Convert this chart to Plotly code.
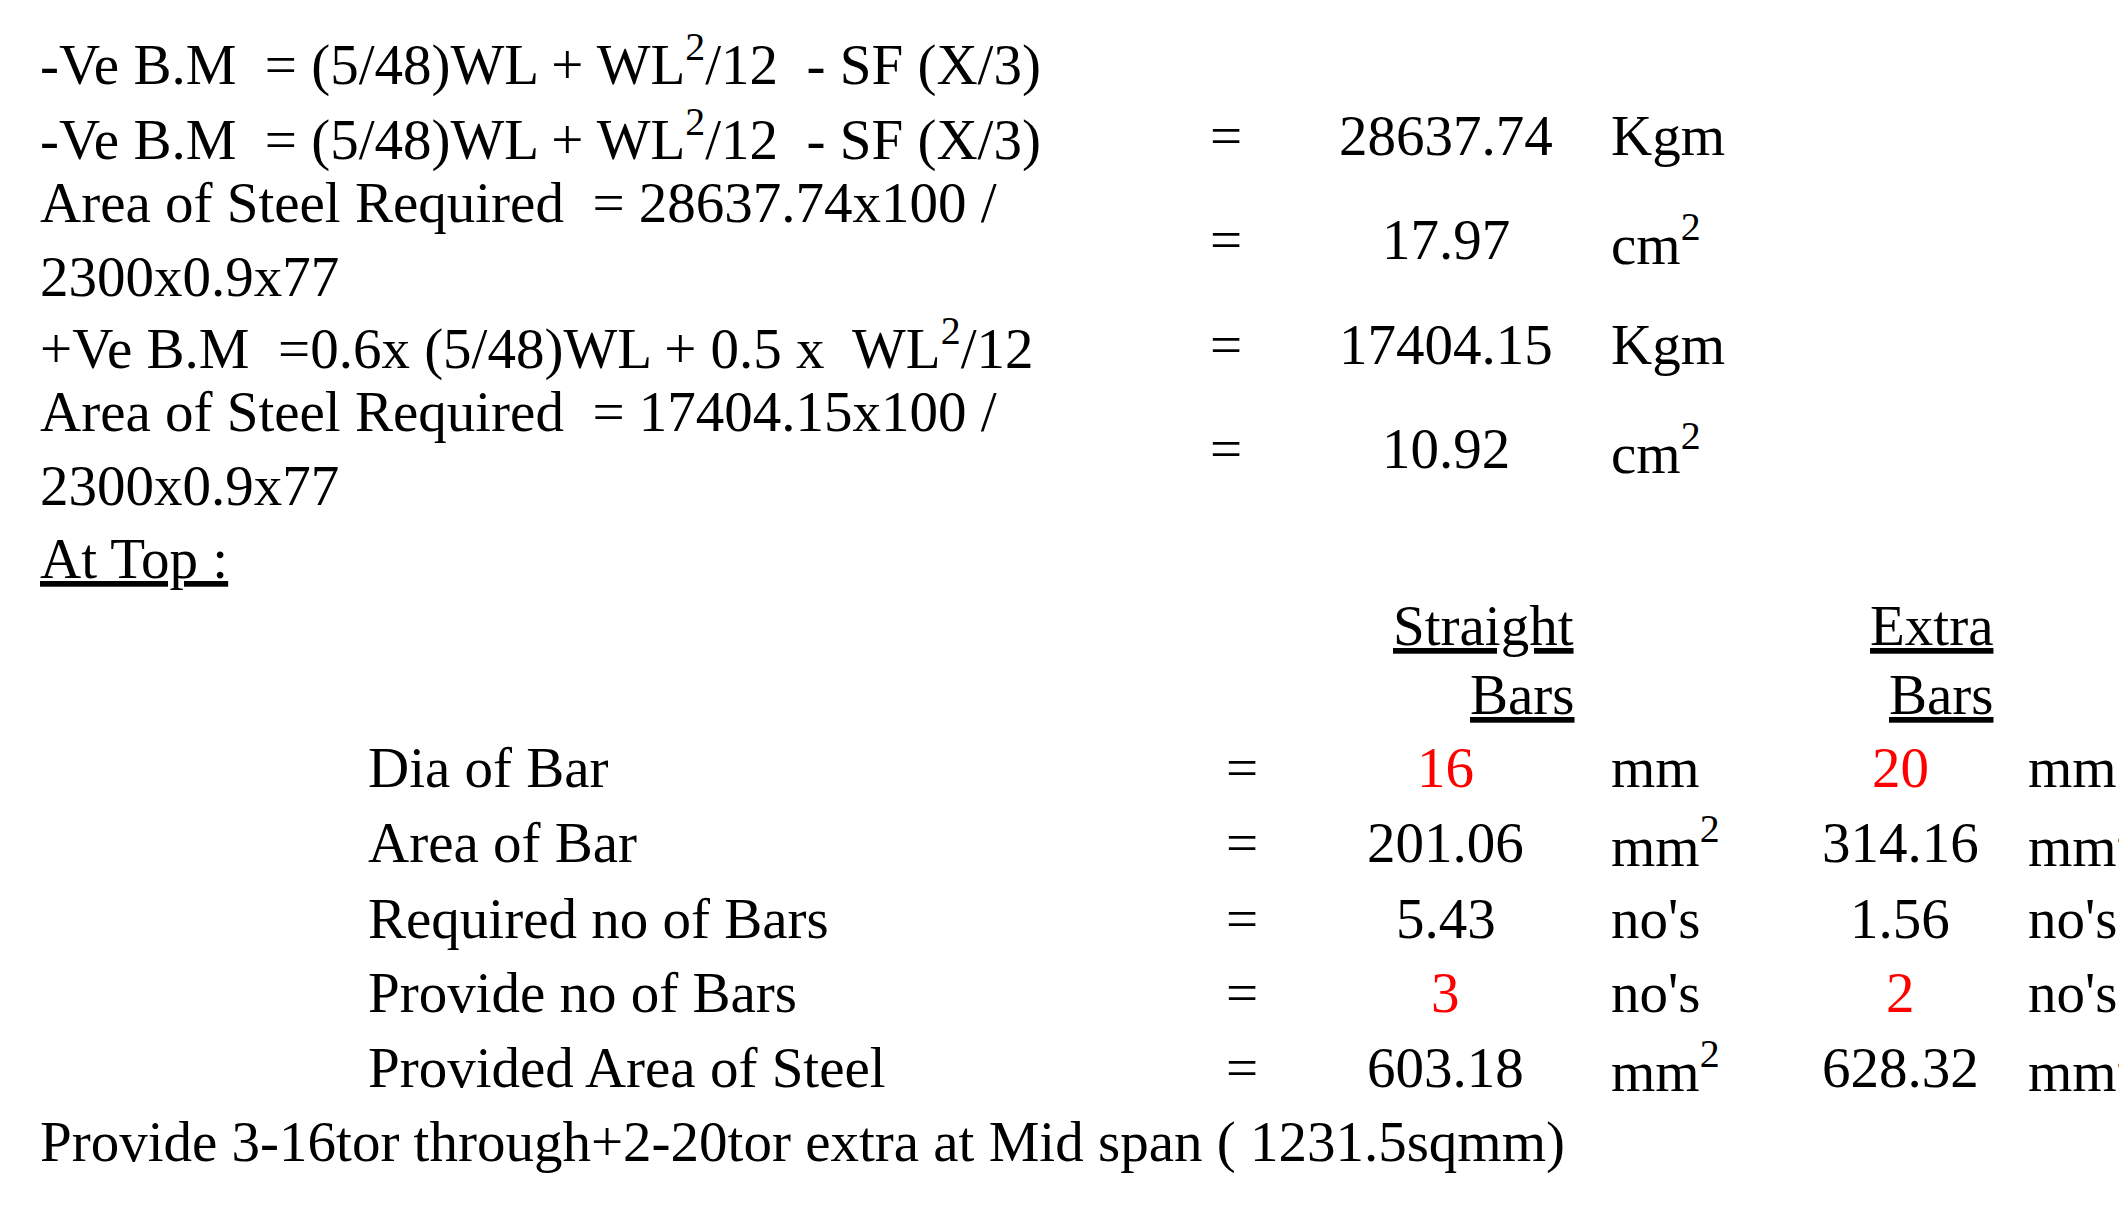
import plotly.graph_objects as go

W, H = 1568.0, 898.0  # reference coordinate frame (scaled)
FONT = "Liberation Serif"
FS = 57
RED = "#ff0000"

# top block
top_labels = ["-Ve B.M  = (5/48)WL + WL<sup>2</sup>/12  - SF (X/3)",
              "-Ve B.M  = (5/48)WL + WL<sup>2</sup>/12  - SF (X/3)",
              "Area of Steel Required  = 28637.74x100 /<br>2300x0.9x77",
              "+Ve B.M  =0.6x (5/48)WL + 0.5 x  WL<sup>2</sup>/12",
              "Area of Steel Required  = 17404.15x100 /<br>2300x0.9x77"]
top_y = [45, 100, 177, 254, 331]
top_eq = [False, True, True, True, True]
top_values = ["", "28637.74", "17.97", "17404.15", "10.92"]
top_units = ["", "Kgm", "cm<sup>2</sup>", "Kgm", "cm<sup>2</sup>"]

# bars table
row_labels = ["Dia of Bar", "Area of Bar", "Required no of Bars",
              "Provide no of Bars", "Provided Area of Steel"]
row_y = [566, 621, 677, 732, 787]
straight_vals = ["16", "201.06", "5.43", "3", "603.18"]
extra_vals = ["20", "314.16", "1.56", "2", "628.32"]
units = ["mm", "mm<sup>2</sup>", "no's", "no's", "mm<sup>2</sup>"]
is_input = [True, False, False, True, False]

fig = go.Figure()
ann = []

def add(text, x, y, xa="left", color="black"):
    ann.append(dict(text=text, x=x / W, y=1 - (y - 6) / H, xref="paper", yref="paper",
                    xanchor=xa, yanchor="middle", showarrow=False, align="left",
                    font=dict(family=FONT, size=FS, color=color)))

for lab, y, eq, v, u in zip(top_labels, top_y, top_eq, top_values, top_units):
    add(lab, 22, y)
    if eq:
        add("=", 898, y, "center")
        add(v, 1060, y, "center")
        add(u, 1180, y)

add("<u>At Top :</u>", 22, 412)
add("<u>Straight</u>", 1156, 461, "right")
add("<u>Bars</u>", 1156, 512, "right")
add("<u>Extra</u>", 1465, 461, "right")
add("<u>Bars</u>", 1465, 512, "right")

for lab, y, s, e, u, inp in zip(row_labels, row_y, straight_vals, extra_vals, units, is_input):
    c = RED if inp else "black"
    add(lab, 264, y)
    add("=", 910, y, "center")
    add(s, 1060, y, "center", c)
    add(u, 1180, y)
    add(e, 1395, y, "center", c)
    add(u, 1488, y)

add("Provide 3-16tor through+2-20tor extra at Mid span ( 1231.5sqmm)", 22, 842)

fig.update_layout(width=2127, height=1218, margin=dict(l=0, r=0, t=0, b=0),
                  paper_bgcolor="white", plot_bgcolor="white",
                  xaxis=dict(visible=False), yaxis=dict(visible=False),
                  annotations=ann)
fig.write_html("out.html")
